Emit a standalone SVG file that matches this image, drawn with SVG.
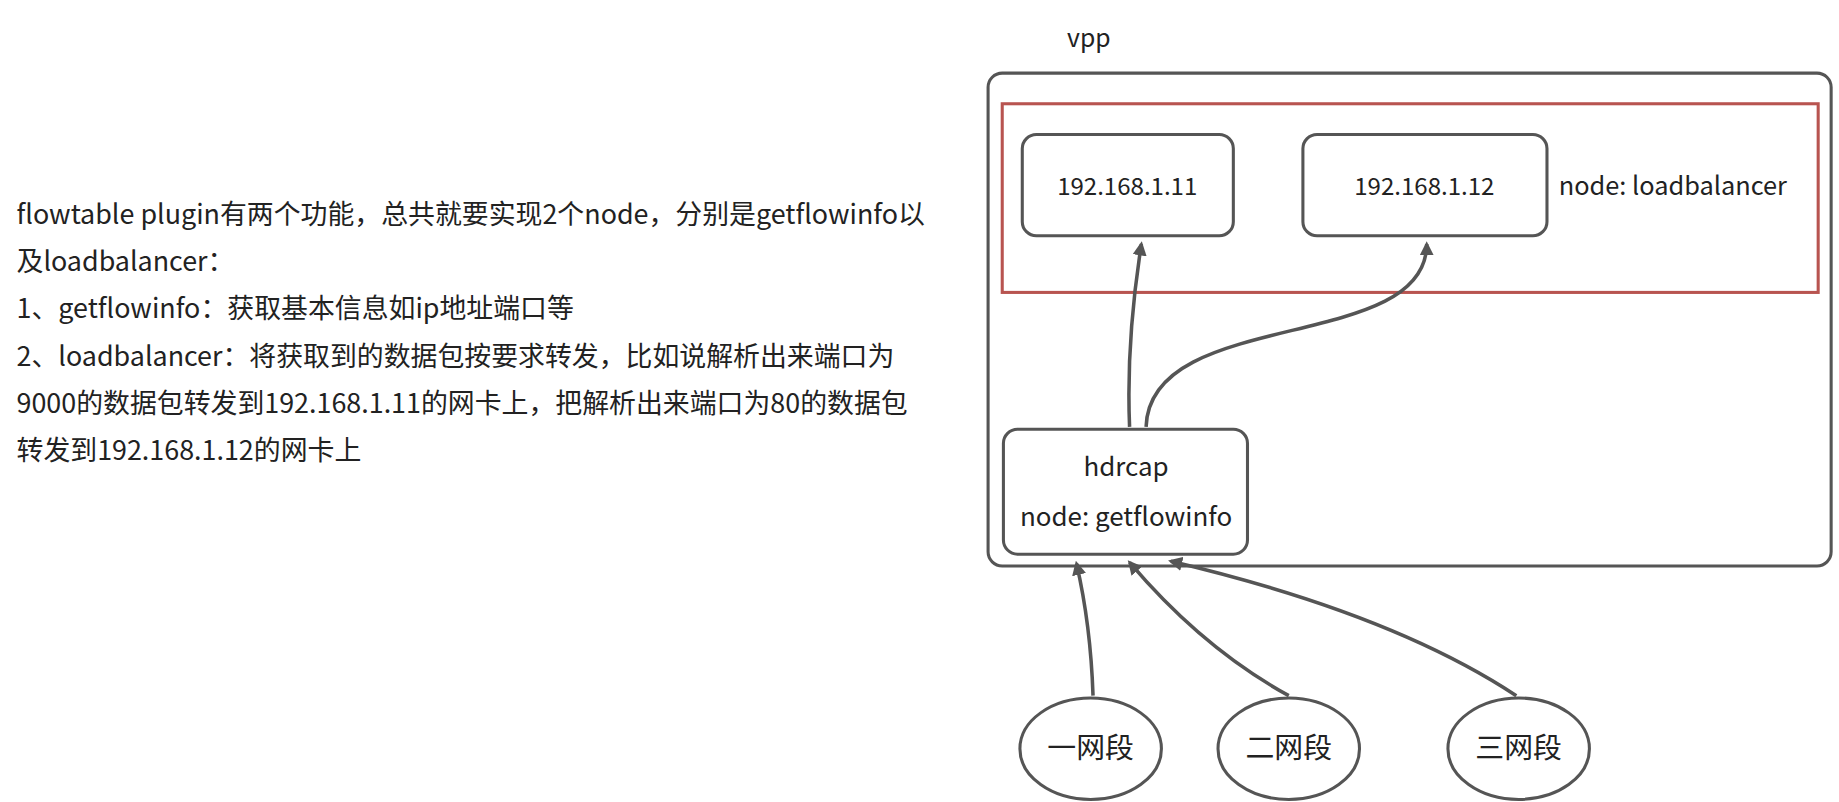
<svg xmlns="http://www.w3.org/2000/svg" width="1839" height="802" viewBox="0 0 1839 802">
<style>
text{font-family:"Microsoft YaHei","Noto Sans CJK SC","Noto Sans",sans-serif;fill:#222}
.n{fill:#fff;stroke:#555;stroke-width:2.6}
.c{fill:none;stroke:#555;stroke-width:3}
.m{text-anchor:middle}
.l{font-size:22.8px}
</style>
<defs><marker id="a" viewBox="0 0 10 10" refX="8" refY="5" markerWidth="4" markerHeight="4" orient="auto"><path d="M0,0L10,5L0,10z" fill="#555"/></marker></defs>
<g transform="scale(1.1791)">
<g id="desc" class="l">
<text x="14" y="190">flowtable plugin有两个功能，总共就要实现2个node，分别是getflowinfo以</text>
<text x="14" y="230">及loadbalancer：</text>
<text x="14" y="270">1、getflowinfo：获取基本信息如ip地址端口等</text>
<text x="14" y="310">2、loadbalancer：将获取到的数据包按要求转发，比如说解析出来端口为</text>
<text x="14" y="350">9000的数据包转发到192.168.1.11的网卡上，把解析出来端口为80的数据包</text>
<text x="14" y="390">转发到192.168.1.12的网卡上</text>
</g>
<g id="vpp"><rect x="838" y="62" width="715" height="418" rx="12" class="n"/><text x="905" y="40" style="font-size:21px">vpp</text></g>
<g id="lb"><rect x="850" y="88" width="692" height="160" fill="none" stroke="#b85450" stroke-width="2.6"/><text x="1322" y="165" style="font-size:21.5px">node: loadbalancer</text></g>
<g id="n11"><rect x="867" y="114" width="179" height="86" rx="12" class="n"/><text x="956" y="165" class="m" style="font-size:20.4px">192.168.1.11</text></g>
<g id="n12"><rect x="1105" y="114" width="207" height="86" rx="12" class="n"/><text x="1208" y="165" class="m" style="font-size:20.4px">192.168.1.12</text></g>
<g id="hdrcap"><rect x="851" y="364" width="207" height="106" rx="12" class="n"/><text x="955" y="404" class="m" style="font-size:22px">hdrcap</text><text x="955" y="446" class="m" style="font-size:22px">node: getflowinfo</text></g>
<g id="e1"><ellipse cx="925" cy="635" rx="60" ry="43" class="n"/><text x="925" y="643" class="m" style="font-size:24.5px">一网段</text></g>
<g id="e2"><ellipse cx="1093" cy="635" rx="60" ry="43" class="n"/><text x="1093" y="643" class="m" style="font-size:24.5px">二网段</text></g>
<g id="e3"><ellipse cx="1288" cy="635" rx="60" ry="43" class="n"/><text x="1288" y="643" class="m" style="font-size:24.5px">三网段</text></g>
<g id="connectors" class="c">
<path d="M958,362 Q955,290 968,207" marker-end="url(#a)"/>
<path d="M972,362 C975,260 1210,300 1210,207" marker-end="url(#a)"/>
<path d="M927,590 Q925,530 913,478" marker-end="url(#a)"/>
<path d="M1093,590 Q1020,550 958,477" marker-end="url(#a)"/>
<path d="M1286,590 Q1180,520 993,476" marker-end="url(#a)"/>
</g>
</g>
</svg>
